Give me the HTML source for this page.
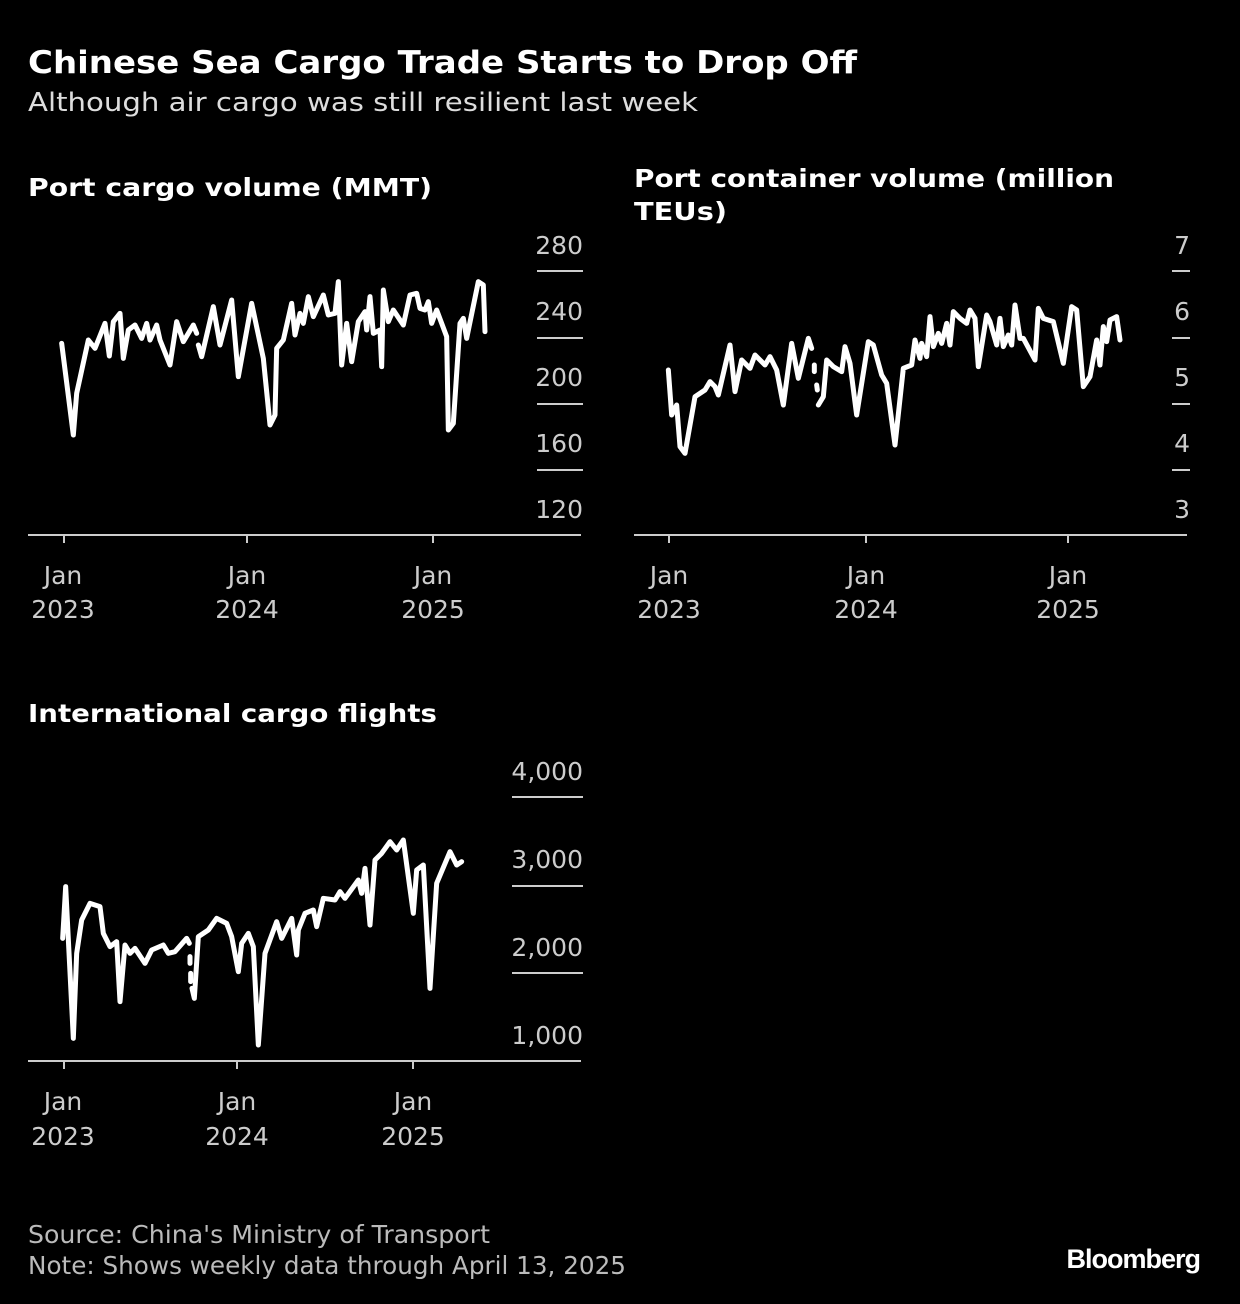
<!DOCTYPE html>
<html><head><meta charset="utf-8"><style>
body{margin:0;background:#000;width:1240px;height:1304px;overflow:hidden;font-family:"Liberation Sans","DejaVu Sans",sans-serif;color:#fff}
svg{position:absolute;left:0;top:0}
</style></head><body>
<svg width="1240" height="1304" viewBox="0 0 1240 1304" font-family="DejaVu Sans, Liberation Sans, sans-serif">
<text x="28" y="73" font-size="31" font-weight="bold" fill="#fff" textLength="829" lengthAdjust="spacingAndGlyphs">Chinese Sea Cargo Trade Starts to Drop Off</text>
<text x="28" y="111" font-size="26" fill="#ddd" textLength="670" lengthAdjust="spacingAndGlyphs">Although air cargo was still resilient last week</text>
<g font-size="25" font-weight="bold" fill="#fff">
<text x="28" y="196" textLength="404" lengthAdjust="spacingAndGlyphs">Port cargo volume (MMT)</text>
<text x="634" y="187" textLength="480" lengthAdjust="spacingAndGlyphs">Port container volume (million</text>
<text x="634" y="220" textLength="93" lengthAdjust="spacingAndGlyphs">TEUs)</text>
<text x="28" y="722" textLength="409" lengthAdjust="spacingAndGlyphs">International cargo flights</text>
</g>
<g font-size="25" fill="#ccc" text-anchor="end">
<text x="583" y="254">280</text><text x="583" y="320">240</text><text x="583" y="386">200</text><text x="583" y="452">160</text><text x="583" y="518">120</text>
<text x="1190" y="254">7</text><text x="1190" y="320">6</text><text x="1190" y="386">5</text><text x="1190" y="452">4</text><text x="1190" y="518">3</text>
<text x="583" y="780">4,000</text><text x="583" y="868">3,000</text><text x="583" y="956">2,000</text><text x="583" y="1044">1,000</text>
</g>
<g stroke="#ccc" stroke-width="2">
<line x1="537" y1="271" x2="583" y2="271"/><line x1="537" y1="338" x2="583" y2="338"/><line x1="537" y1="404" x2="583" y2="404"/><line x1="537" y1="470" x2="583" y2="470"/>
<line x1="1172" y1="271" x2="1190" y2="271"/><line x1="1172" y1="338" x2="1190" y2="338"/><line x1="1172" y1="404" x2="1190" y2="404"/><line x1="1172" y1="470" x2="1190" y2="470"/>
<line x1="512" y1="797" x2="583" y2="797"/><line x1="512" y1="886" x2="583" y2="886"/><line x1="512" y1="973" x2="583" y2="973"/>
<line x1="28" y1="535" x2="581" y2="535"/><line x1="634" y1="535" x2="1187" y2="535"/><line x1="28" y1="1061" x2="581" y2="1061"/>
<line x1="64" y1="535" x2="64" y2="543"/><line x1="247" y1="535" x2="247" y2="543"/><line x1="433" y1="535" x2="433" y2="543"/>
<line x1="669" y1="535" x2="669" y2="543"/><line x1="866" y1="535" x2="866" y2="543"/><line x1="1068" y1="535" x2="1068" y2="543"/>
<line x1="64" y1="1061" x2="64" y2="1069"/><line x1="237" y1="1061" x2="237" y2="1069"/><line x1="413" y1="1061" x2="413" y2="1069"/>
</g>
<g font-size="25" fill="#ccc" text-anchor="middle">
<text x="63" y="584">Jan</text><text x="63" y="618">2023</text><text x="247" y="584">Jan</text><text x="247" y="618">2024</text><text x="433" y="584">Jan</text><text x="433" y="618">2025</text>
<text x="669" y="584">Jan</text><text x="669" y="618">2023</text><text x="866" y="584">Jan</text><text x="866" y="618">2024</text><text x="1068" y="584">Jan</text><text x="1068" y="618">2025</text>
<text x="63" y="1110">Jan</text><text x="63" y="1145">2023</text><text x="237" y="1110">Jan</text><text x="237" y="1145">2024</text><text x="413" y="1110">Jan</text><text x="413" y="1145">2025</text>
</g>
<g fill="none" stroke="#fff" stroke-width="15" stroke-linejoin="round" stroke-linecap="round">
<g transform="translate(50,270) scale(0.33333)">
<polyline points="35,220 70,495 80,370 115,210 135,235 165,160 178,258 190,155 210,130 220,265 235,180 255,165 275,205 290,160 300,210 320,165 330,210 360,285 380,155 400,215 430,165 440,190"/>
<polyline points="445,225 455,260 490,110 510,225 545,90 565,320 605,100 640,265 660,465 675,435 680,235 700,210 725,100 735,195 750,130 760,160 775,80 790,140 820,75 835,135 855,130 865,35 875,285 890,160 905,275 925,155 945,125 950,180 960,80 970,190 990,180 995,290 1000,60 1015,155 1030,120 1060,165 1080,75 1100,70 1110,115 1125,120 1135,95 1145,160 1160,120 1190,200 1195,480 1210,460 1230,160 1240,145 1250,205 1285,35 1300,45 1305,185"/>
</g>
<g transform="translate(655,290) scale(0.33333)">
<polyline points="40,240 50,375 65,345 75,470 90,490 120,320 150,300 165,275 180,290 190,315 225,165 240,305 260,210 285,235 300,195 330,225 345,200 365,240 385,345 410,160 430,265 460,145 470,175"/>
<polyline points="478,225 478,245" /><polyline points="485,285 487,300"/>
<polyline points="490,345 505,320 515,210 535,230 560,245 570,170 585,220 605,375 640,155 655,165 680,255 695,280 720,465 745,235 770,225 780,150 795,205 800,160 815,200 825,80 835,170 850,130 860,160 875,100 885,165 895,65 915,85 935,100 945,60 960,85 970,230 995,75 1005,95 1025,165 1035,85 1045,170 1060,135 1070,165 1080,45 1095,145 1105,145 1140,210 1150,55 1165,85 1195,95 1225,220 1250,50 1265,60 1285,290 1305,260 1325,150 1335,225 1345,110 1355,155 1365,90 1385,80 1395,150"/>
</g>
<g transform="translate(50,820) scale(0.33333)">
<polyline points="38,355 47,200 70,655 80,400 95,300 120,250 150,260 160,340 180,380 200,365 210,545 225,375 240,400 255,385 285,430 305,390 340,375 355,400 375,395 410,355 418,370"/>
<polyline points="420,410 420,430"/><polyline points="422,460 422,485"/>
<polyline points="426,505 433,535 445,350 475,330 500,295 530,310 545,350 565,455 575,370 595,340 610,380 625,675 645,400 680,305 695,355 725,295 740,405 745,330 765,280 790,270 800,320 820,235 855,240 870,215 885,235 925,180 935,220 945,145 960,315 975,120 995,100 1020,65 1040,90 1060,60 1090,280 1100,150 1120,135 1140,505 1160,190 1200,95 1220,135 1235,125"/>
</g>
</g>
<g font-size="25" fill="#bbb">
<text x="28" y="1243" textLength="462" lengthAdjust="spacingAndGlyphs">Source: China's Ministry of Transport</text>
<text x="28" y="1274" textLength="598" lengthAdjust="spacingAndGlyphs">Note: Shows weekly data through April 13, 2025</text>
</g>
<text x="1200" y="1268" font-size="27" font-weight="bold" fill="#fff" text-anchor="end" font-family="Liberation Sans, sans-serif" letter-spacing="-1">Bloomberg</text>
</svg>
</body></html>
